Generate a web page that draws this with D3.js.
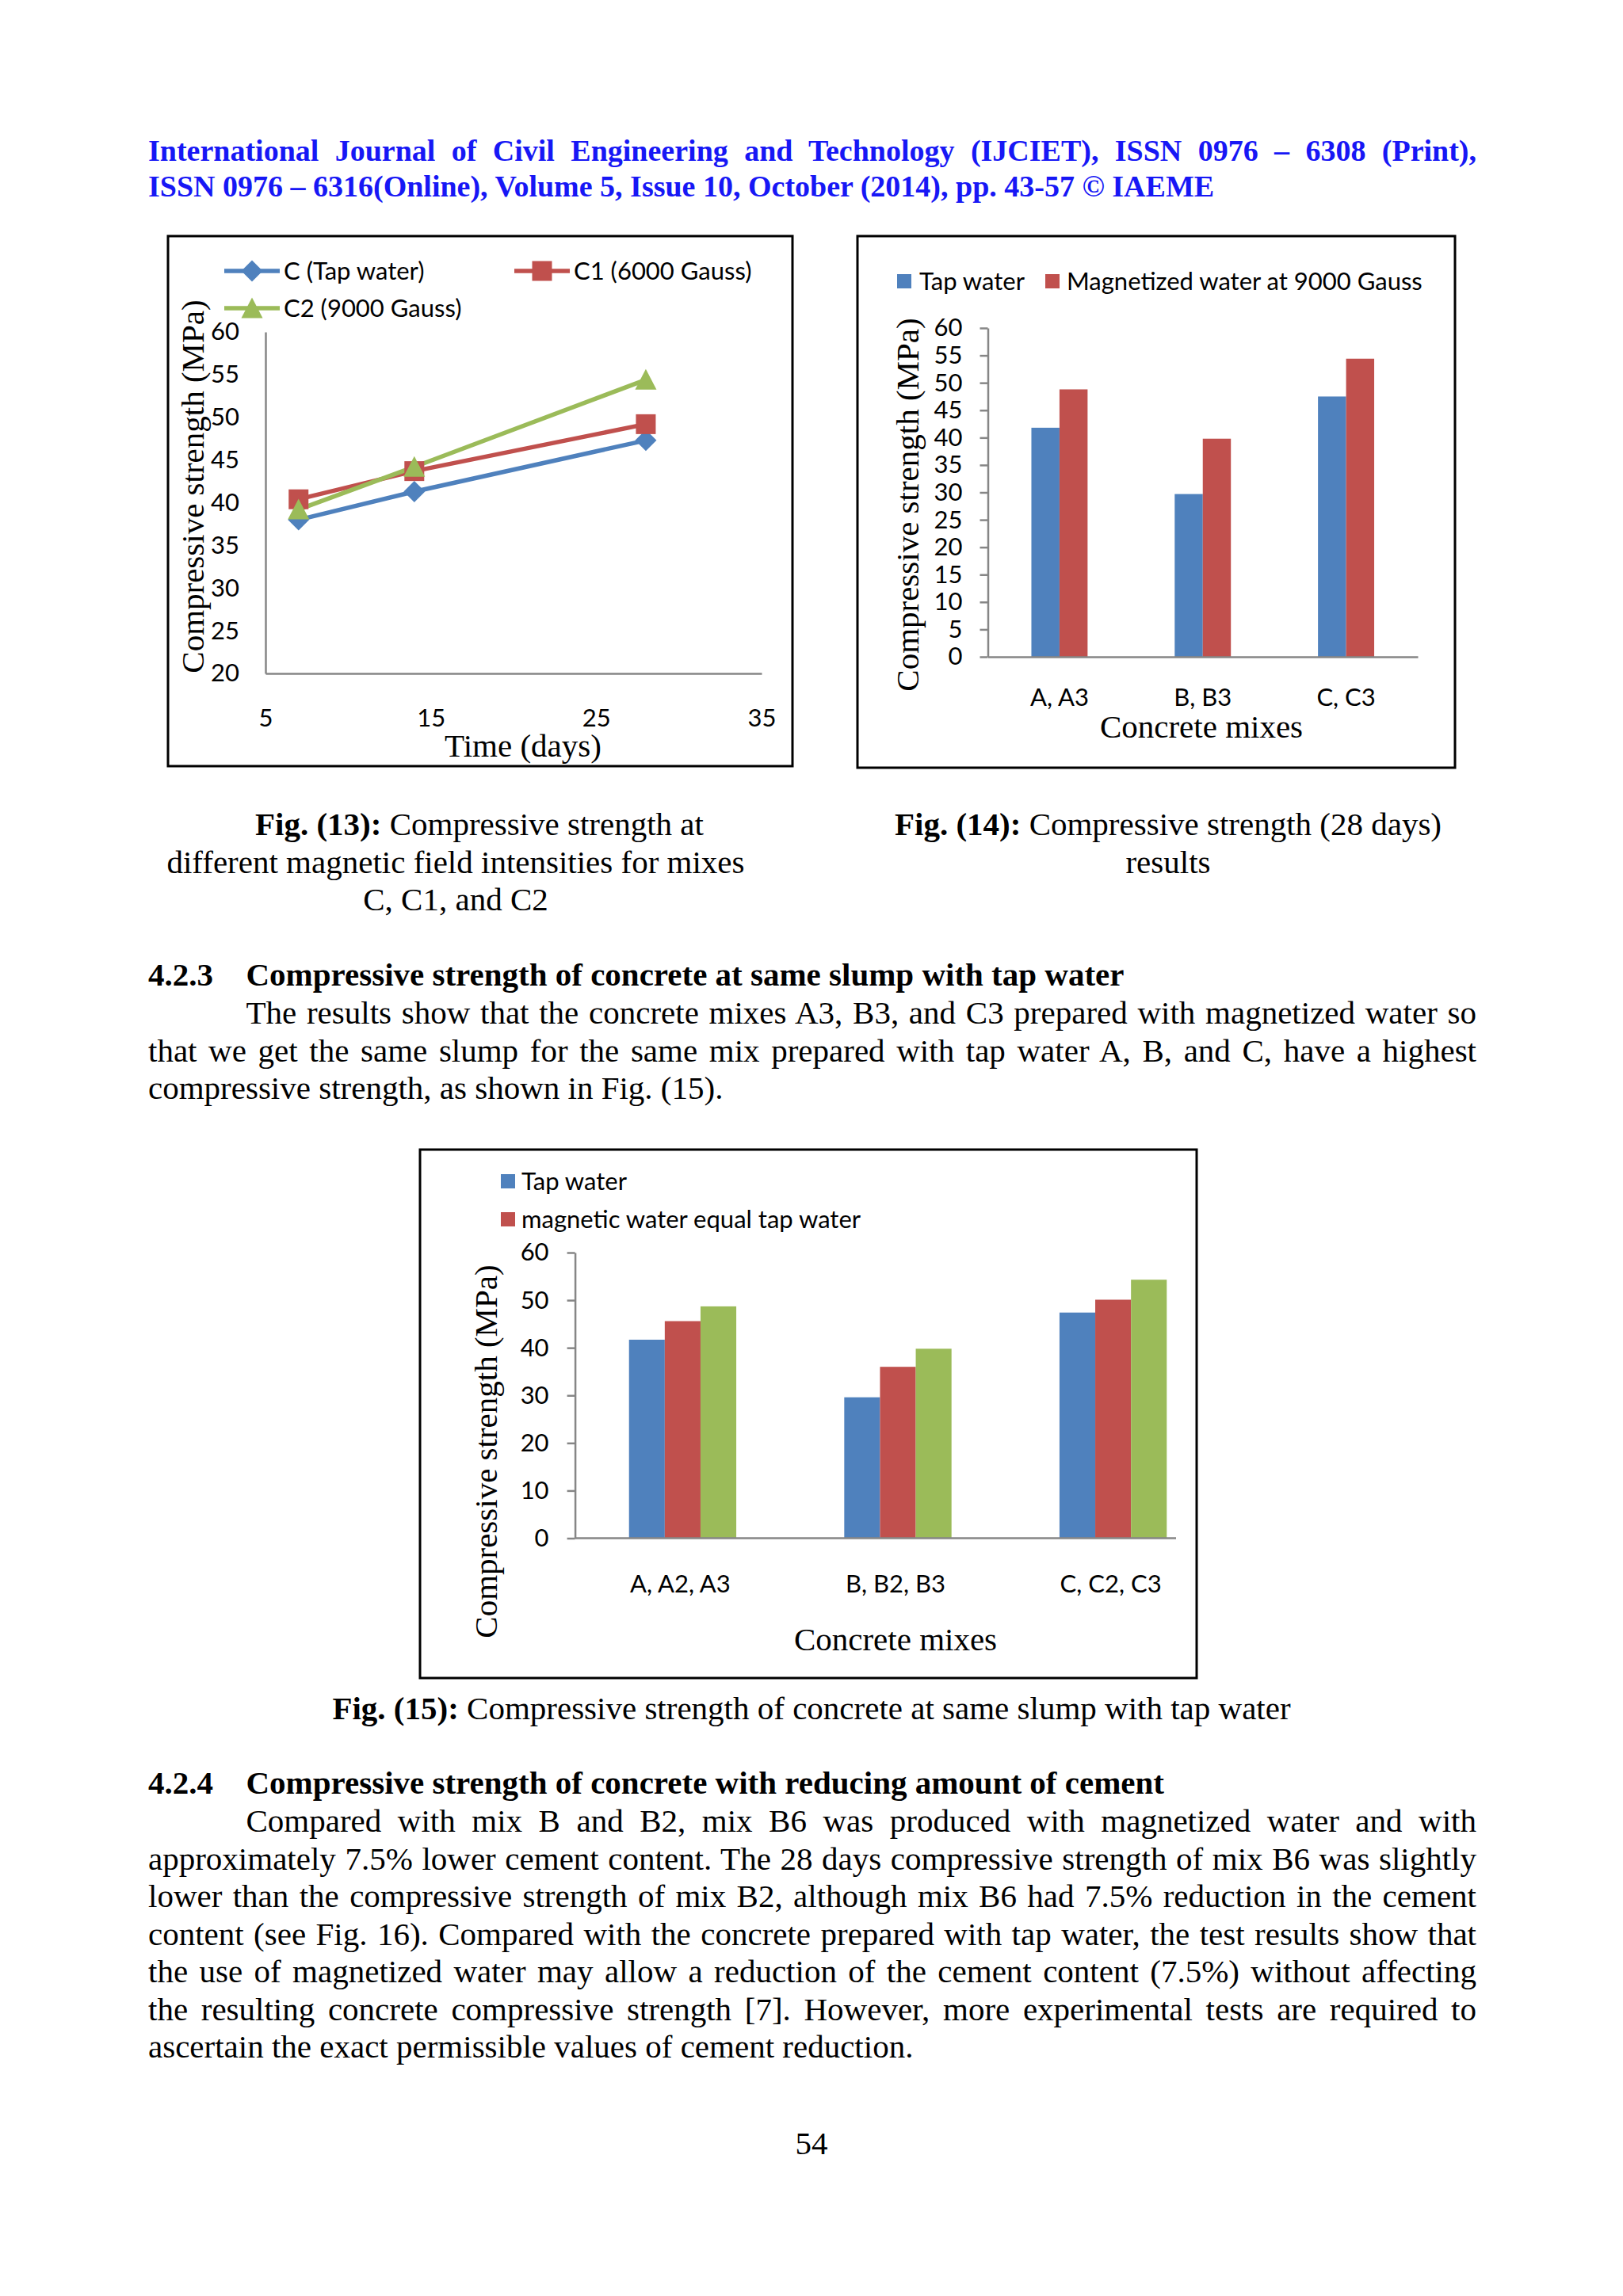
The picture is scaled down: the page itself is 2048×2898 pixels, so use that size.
<!DOCTYPE html>
<html><head><meta charset="utf-8">
<script src="https://cdn.jsdelivr.net/npm/d3@7"></script>
<style>html,body{margin:0;padding:0;background:#fff;} svg{display:block}</style>
</head><body>
<svg id="page" width="2048" height="2898"></svg>
<script>
// ---------------- DATA ----------------
const fig13Days = [7, 14, 28];
const fig13Names = ["C (Tap water)", "C1 (6000 Gauss)", "C2 (9000 Gauss)"];
const fig13C = [38.0, 41.3, 47.3];
const fig13C1 = [40.4, 43.7, 49.2];
const fig13C2 = [39.2, 44.2, 54.4];
const fig13XTicks = [5, 15, 25, 35];
const fig13YTicks = [20, 25, 30, 35, 40, 45, 50, 55, 60];

const fig14Categories = ["A, A3", "B, B3", "C, C3"];
const fig14Names = ["Tap water", "Magnetized water at 9000 Gauss"];
const fig14Tap = [41.8, 29.7, 47.5];
const fig14Mag = [48.8, 39.8, 54.4];
const fig14YTicks = [0, 5, 10, 15, 20, 25, 30, 35, 40, 45, 50, 55, 60];

const fig15Categories = ["A, A2, A3", "B, B2, B3", "C, C2, C3"];
const fig15Names = ["Tap water", "magnetic water equal tap water"];
const fig15Tap = [41.7, 29.6, 47.4];
const fig15Equal = [45.6, 36.0, 50.1];
const fig15Mag = [48.7, 39.8, 54.3];
const fig15YTicks = [0, 10, 20, 30, 40, 50, 60];

const headerLines = [
  "International Journal of Civil Engineering and Technology (IJCIET), ISSN 0976 \u2013 6308 (Print),",
  "ISSN 0976 \u2013 6316(Online), Volume 5, Issue 10, October (2014), pp. 43-57 \u00A9 IAEME"
];
const para1 = [
  "The results show that the concrete mixes A3, B3, and C3 prepared with magnetized water so",
  "that we get the same slump for the same mix prepared with tap water A, B, and C, have a highest",
  "compressive strength, as shown in Fig. (15)."
];
const para2 = [
  "Compared with mix B and B2, mix B6 was produced with magnetized water and with",
  "approximately 7.5% lower cement content. The 28 days compressive strength of mix B6 was slightly",
  "lower than the compressive strength of mix B2, although mix B6 had 7.5% reduction in the cement",
  "content (see Fig. 16). Compared with the concrete prepared with tap water, the test results show that",
  "the use of magnetized water may allow a reduction of the cement content (7.5%) without affecting",
  "the resulting concrete compressive strength [7]. However, more experimental tests are required to",
  "ascertain the exact permissible values of cement reduction."
];

// ---------------- STYLE ----------------
const SERIF = "'Liberation Serif','Times New Roman',serif";
const SANS = "Lato,'Open Sans',sans-serif";
const BLUE = "#4F81BD", RED = "#C0504D", GREEN = "#9BBB59";
const AXIS = "#868686";
const CH_FS = 31;
const BODY_FS = 41;
const LEFT = 187, RIGHT = 1863, INDENT = 310.5;

const svg = d3.select("#page");
svg.append("rect").attr("width", 2048).attr("height", 2898).attr("fill", "#fff");

function textLine(segs, o) {
  const t = svg.append("text")
    .attr("x", o.x).attr("y", o.y)
    .attr("font-family", SERIF)
    .attr("font-size", o.size || BODY_FS)
    .attr("fill", o.color || "#000")
    .attr("text-anchor", o.anchor || "start")
    .style("white-space", "pre");
  segs.forEach(s => {
    t.append("tspan").attr("font-weight", s.b ? "bold" : "normal").text(s.t);
  });
  if (o.justify) {
    const full = segs.map(s => s.t).join("");
    const nSp = (full.match(/ /g) || []).length;
    const L = t.node().getComputedTextLength();
    if (nSp > 0) t.attr("word-spacing", (o.justify - L) / nSp);
  }
  return t;
}

// ---------------- HEADER ----------------
textLine([{t: headerLines[0], b: true}], {x: LEFT, y: 203, size: 38, color: "#1717F5", justify: RIGHT - LEFT});
textLine([{t: headerLines[1], b: true}], {x: LEFT, y: 248, size: 38, color: "#1717F5"});

// ---------------- helpers for charts ----------------
function frame(x0, y0, x1, y1) {
  svg.append("rect").attr("x", x0).attr("y", y0).attr("width", x1 - x0).attr("height", y1 - y0)
    .attr("fill", "#fff").attr("stroke", "#000").attr("stroke-width", 3);
}
function styleAxis(g) {
  g.attr("font-family", SANS).attr("font-size", CH_FS);
  g.select(".domain").attr("stroke", AXIS).attr("stroke-width", 2.5);
  g.selectAll(".tick line").attr("stroke", AXIS).attr("stroke-width", 2.5);
  g.selectAll(".tick text").attr("fill", "#000");
}
function yTitle(x, y, txt) {
  svg.append("text").attr("transform", `translate(${x},${y}) rotate(-90)`)
    .attr("text-anchor", "middle").attr("dy", "0.35em")
    .attr("font-family", SERIF).attr("font-size", BODY_FS).attr("fill", "#000").text(txt);
}
function xTitle(x, y, txt) {
  svg.append("text").attr("x", x).attr("y", y).attr("text-anchor", "middle").attr("dy", "0.35em")
    .attr("font-family", SERIF).attr("font-size", BODY_FS).attr("fill", "#000").text(txt);
}
function sansText(x, y, txt) {
  svg.append("text").attr("x", x).attr("y", y).attr("dy", "0.35em")
    .attr("font-family", SANS).attr("font-size", CH_FS).attr("fill", "#000").text(txt);
}

const symDiamond = { draw(ctx, size) { const r = Math.sqrt(size) / 2; ctx.moveTo(0, -r); ctx.lineTo(r, 0); ctx.lineTo(0, r); ctx.lineTo(-r, 0); ctx.closePath(); } };
const symSquare = { draw(ctx, size) { const r = Math.sqrt(size) / 2; ctx.rect(-r, -r, 2 * r, 2 * r); } };
const symTriangle = { draw(ctx, size) { const r = Math.sqrt(size) / 2; ctx.moveTo(0, -r); ctx.lineTo(r, r * 0.92); ctx.lineTo(-r, r * 0.92); ctx.closePath(); } };

// ---------------- FIG 13 ----------------
frame(212, 298, 1000, 967);
{
  const x = d3.scaleLinear().domain([5, 35]).range([335, 961]);
  const y = d3.scaleLinear().domain([20, 60]).range([850, 419]);
  const gx = svg.append("g").attr("transform", "translate(0,850)")
    .call(d3.axisBottom(x).tickValues(fig13XTicks).tickSize(0).tickSizeOuter(0).tickPadding(45));
  styleAxis(gx);
  const gy = svg.append("g").attr("transform", "translate(335,0)")
    .call(d3.axisLeft(y).tickValues(fig13YTicks).tickSize(0).tickSizeOuter(0).tickPadding(33));
  styleAxis(gy);

  const series = [
    {name: fig13Names[0], vals: fig13C, color: BLUE, sym: symDiamond, size: 27 * 27},
    {name: fig13Names[1], vals: fig13C1, color: RED, sym: symSquare, size: 25 * 25},
    {name: fig13Names[2], vals: fig13C2, color: GREEN, sym: symTriangle, size: 27 * 27}
  ];
  const line = d3.line().x((d, i) => x(fig13Days[i])).y(d => y(d));
  series.forEach(s => {
    svg.append("path").attr("d", line(s.vals)).attr("fill", "none")
      .attr("stroke", s.color).attr("stroke-width", 5.5).attr("stroke-linejoin", "round");
  });
  series.forEach(s => {
    svg.selectAll(null).data(s.vals).enter().append("path")
      .attr("d", d3.symbol().type(s.sym).size(s.size))
      .attr("transform", (d, i) => `translate(${x(fig13Days[i])},${y(d)})`)
      .attr("fill", s.color);
  });
  const leg = [
    {s: series[0], lx: 283, ly: 342},
    {s: series[1], lx: 649, ly: 342},
    {s: series[2], lx: 283, ly: 389}
  ];
  leg.forEach(l => {
    svg.append("line").attr("x1", l.lx).attr("x2", l.lx + 70).attr("y1", l.ly).attr("y2", l.ly)
      .attr("stroke", l.s.color).attr("stroke-width", 5.5);
    svg.append("path").attr("d", d3.symbol().type(l.s.sym).size(l.s.size))
      .attr("transform", `translate(${l.lx + 35},${l.ly})`).attr("fill", l.s.color);
    sansText(l.lx + 75, l.ly, l.s.name);
  });
  yTitle(243, 614, "Compressive strength (MPa)");
  xTitle(660, 941, "Time (days)");
}

// ---------------- FIG 14 ----------------
frame(1082, 298, 1836, 969);
{
  const x0 = d3.scaleBand().domain(fig14Categories).range([1246.5, 1789]).paddingInner(0).paddingOuter(0);
  const x1 = d3.scaleBand().domain(fig14Names).range([0, x0.bandwidth()]).paddingInner(0).paddingOuter(1.55);
  const y = d3.scaleLinear().domain([0, 60]).range([829, 414]);
  const vals = [fig14Tap, fig14Mag];
  const cols = [BLUE, RED];
  fig14Names.forEach((n, si) => {
    svg.selectAll(null).data(vals[si]).enter().append("rect")
      .attr("x", (d, i) => x0(fig14Categories[i]) + x1(n))
      .attr("y", d => y(d))
      .attr("width", x1.bandwidth())
      .attr("height", d => y(0) - y(d))
      .attr("fill", cols[si]);
  });
  const gx = svg.append("g").attr("transform", "translate(0,829)")
    .call(d3.axisBottom(x0).tickSize(0).tickSizeOuter(0).tickPadding(40));
  styleAxis(gx);
  const gy = svg.append("g").attr("transform", "translate(1246.5,0)")
    .call(d3.axisLeft(y).tickValues(fig14YTicks).tickSize(10).tickSizeOuter(0).tickPadding(22));
  styleAxis(gy);
  const lg = [{x: 1141, tx: 1160}, {x: 1328, tx: 1346}];
  fig14Names.forEach((n, i) => {
    svg.append("rect").attr("x", lg[i].x - 9).attr("y", 355 - 9).attr("width", 18).attr("height", 18).attr("fill", cols[i]);
    sansText(lg[i].tx, 355, n);
  });
  yTitle(1145, 637, "Compressive strength (MPa)");
  xTitle(1516, 917, "Concrete mixes");
}

// ---------------- CAPTIONS 13/14 ----------------
textLine([{t: "Fig. (13):", b: true}, {t: " Compressive strength at"}], {x: 605, y: 1054, anchor: "middle"});
textLine([{t: "different magnetic field intensities for mixes"}], {x: 575, y: 1102, anchor: "middle"});
textLine([{t: "C, C1, and C2"}], {x: 575, y: 1149, anchor: "middle"});
textLine([{t: "Fig. (14):", b: true}, {t: " Compressive strength (28 days)"}], {x: 1474, y: 1054, anchor: "middle"});
textLine([{t: "results"}], {x: 1474, y: 1102, anchor: "middle"});

// ---------------- SECTION 4.2.3 ----------------
textLine([{t: "4.2.3", b: true}], {x: LEFT, y: 1244});
textLine([{t: "Compressive strength of concrete at same slump with tap water", b: true}], {x: INDENT, y: 1244});
para1.forEach((l, i) => {
  const last = i === para1.length - 1;
  const x = i === 0 ? INDENT : LEFT;
  textLine([{t: l}], {x: x, y: 1292 + i * 47.5, justify: last ? null : RIGHT - x});
});

// ---------------- FIG 15 ----------------
frame(530, 1451, 1510, 2118);
{
  const axisStart = 725.6, axisEnd = 1484;
  const x0 = d3.scaleBand().domain(fig15Categories).range([axisStart, 1540.4]).paddingInner(0).paddingOuter(0);
  const keys = ["tap", "equal", "mag"];
  const x1 = d3.scaleBand().domain(keys).range([0, x0.bandwidth()]).paddingInner(0).paddingOuter(1.51);
  const y = d3.scaleLinear().domain([0, 60]).range([1941.5, 1581]);
  const vals = [fig15Tap, fig15Equal, fig15Mag];
  const cols = [BLUE, RED, GREEN];
  keys.forEach((k, si) => {
    svg.selectAll(null).data(vals[si]).enter().append("rect")
      .attr("x", (d, i) => x0(fig15Categories[i]) + x1(k))
      .attr("y", d => y(d))
      .attr("width", x1.bandwidth())
      .attr("height", d => y(0) - y(d))
      .attr("fill", cols[si]);
  });
  const gx = svg.append("g").attr("transform", "translate(0,1941.5)")
    .call(d3.axisBottom(x0).tickSize(0).tickSizeOuter(0).tickPadding(46));
  styleAxis(gx);
  gx.select(".domain").attr("d", `M${axisStart},0H${axisEnd}`);
  gx.selectAll(".tick").attr("transform", d => `translate(${x0(d) + x0.bandwidth() / 2 - 3},0)`);
  const gy = svg.append("g").attr("transform", `translate(${axisStart},0)`)
    .call(d3.axisLeft(y).tickValues(fig15YTicks).tickSize(10).tickSizeOuter(0).tickPadding(23));
  styleAxis(gy);
  const ly = [1491, 1539];
  fig15Names.forEach((n, i) => {
    svg.append("rect").attr("x", 632).attr("y", ly[i] - 9).attr("width", 18).attr("height", 18).attr("fill", cols[i]);
    sansText(658, ly[i], n);
  });
  yTitle(613, 1832, "Compressive strength (MPa)");
  xTitle(1130, 2069, "Concrete mixes");
}
textLine([{t: "Fig. (15):", b: true}, {t: " Compressive strength of concrete at same slump with tap water"}], {x: 1024, y: 2170, anchor: "middle"});

// ---------------- SECTION 4.2.4 ----------------
textLine([{t: "4.2.4", b: true}], {x: LEFT, y: 2264});
textLine([{t: "Compressive strength of concrete with reducing amount of cement", b: true}], {x: INDENT, y: 2264});
para2.forEach((l, i) => {
  const last = i === para2.length - 1;
  const x = i === 0 ? INDENT : LEFT;
  textLine([{t: l}], {x: x, y: 2312 + i * 47.5, justify: last ? null : RIGHT - x});
});

textLine([{t: "54"}], {x: 1024, y: 2719, anchor: "middle"});
</script>
</body></html>
